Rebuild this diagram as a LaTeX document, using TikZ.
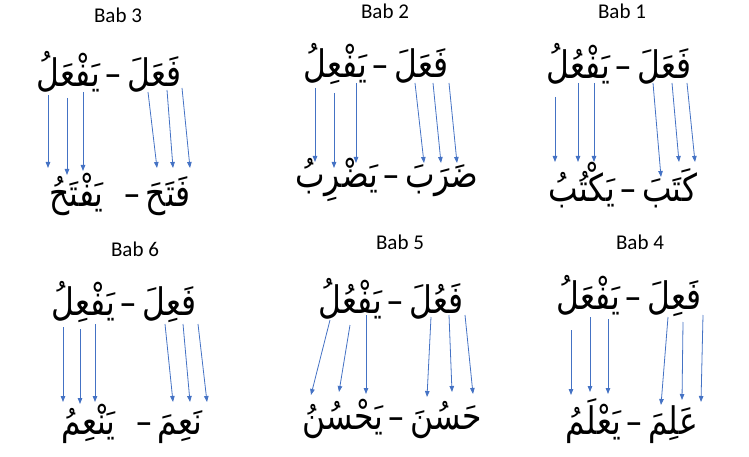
\documentclass[tikz,border=0pt]{standalone}
\usepackage{fontspec}
\setmainfont{Carlito}
\newfontfamily\arabicfont[Script=Arabic]{DejaVu Sans}
\TeXXeTstate=1
\usetikzlibrary{arrows.meta}
\newcommand{\dsh}{\hspace{6pt}–\hspace{6pt}}
\newcommand{\dshw}{\hspace{6pt}–\hspace{22pt}}
\newcommand{\arw}[1]{\scalebox{0.95}[1.15]{\beginR #1\endR}}
\begin{document}
\begin{tikzpicture}[x=1pt,y=-1pt,
  title/.style={font=\fontsize{21}{25}\selectfont, inner sep=0pt},
  ar/.style={font=\arabicfont\fontsize{33}{40}\selectfont, inner sep=0pt},
  arr/.style={draw={rgb,255:red,68;green,114;blue,196}, line width=0.8pt,
    -{Triangle[length=6pt,width=4.5pt]}}]
\useasboundingbox (0,0) rectangle (749,457);
% titles
\node[title] (t3) at (118,15) {Bab 3};
\node[title] (t2) at (385,11) {Bab 2};
\node[title] (t1) at (622,11) {Bab 1};
\node[title] (t6) at (135,249) {Bab 6};
\node[title] (t5) at (400,242) {Bab 5};
\node[title] (t4) at (640,242) {Bab 4};
% arabic words
\node[ar] (w3a) at (109,72) {\arw{فَعَلَ\dsh يَفْعَلُ}};
\node[ar] (w3b) at (120,194) {\arw{فَتَحَ\dshw يَفْتَحُ}};
\node[ar] (w2a) at (376,64) {\arw{فَعَلَ\dsh يَفْعِلُ}};
\node[ar] (w2b) at (387,180) {\arw{ضَرَبَ\dsh يَضْرِبُ}};
\node[ar] (w1a) at (619,64) {\arw{فَعَلَ\dsh يَفْعُلُ}};
\node[ar] (w1b) at (623,185) {\arw{كَتَبَ\dsh يَكْتُبُ}};
\node[ar] (w6a) at (124,302) {\arw{فَعِلَ\dsh يَفْعِلُ}};
\node[ar] (w6b) at (132,424) {\arw{نَعِمَ\dshw يَنْعِمُ}};
\node[ar] (w5a) at (391,299) {\arw{فَعُلَ\dsh يَفْعُلُ}};
\node[ar] (w5b) at (392,419) {\arw{حَسُنَ\dsh يَحْسُنُ}};
\node[ar] (w4a) at (629,296) {\arw{فَعِلَ\dsh يَفْعَلُ}};
\node[ar] (w4b) at (632,421) {\arw{عَلِمَ\dsh يَعْلَمُ}};
% arrows
\foreach \n/\xa/\ya/\xb/\yb in {
  b3l1/48/95/48/168, b3l2/67/98/67/175, b3l3/83/92/83/171,
  b3r1/148/92/157/168, b3r2/167/90/173/168, b3r3/182/88/190/168,
  b2l1/315/88/315/162, b2l2/334/93/334/168, b2l3/356/83/356/163,
  b2r1/415/83/424/163, b2r2/433/83/441/163, b2r3/449/83/457/163,
  b1l1/555/97/555/162, b1l2/578/83/578/162, b1l3/594/83/594/162,
  b1r1/653/83/661/177, b1r2/672/83/679/162, b1r3/687/83/695/162,
  b6l1/63/327/63/402, b6l2/80/329/80/404, b6l3/95/324/95/402,
  b6r1/165/324/173/402, b6r2/183/324/190/402, b6r3/198/324/207/402,
  b5l1/330/320/311/395, b5l2/350/325/339/392, b5l3/366/315/366/394,
  b5r1/431/317/427/397, b5r2/449/315/452/392, b5r3/465/315/473/394,
  b4l1/571/330/571/395, b4l2/590/317/590/392, b4l3/608/319/608/394,
  b4r1/668/317/661/405, b4r2/683/322/682/400, b4r3/703/315/701/402}{
  \coordinate (\n s) at (\xa,\ya);
  \coordinate (\n e) at (\xb,\yb);
  \draw[arr] (\n s) -- (\n e);
}
\end{tikzpicture}
\end{document}
